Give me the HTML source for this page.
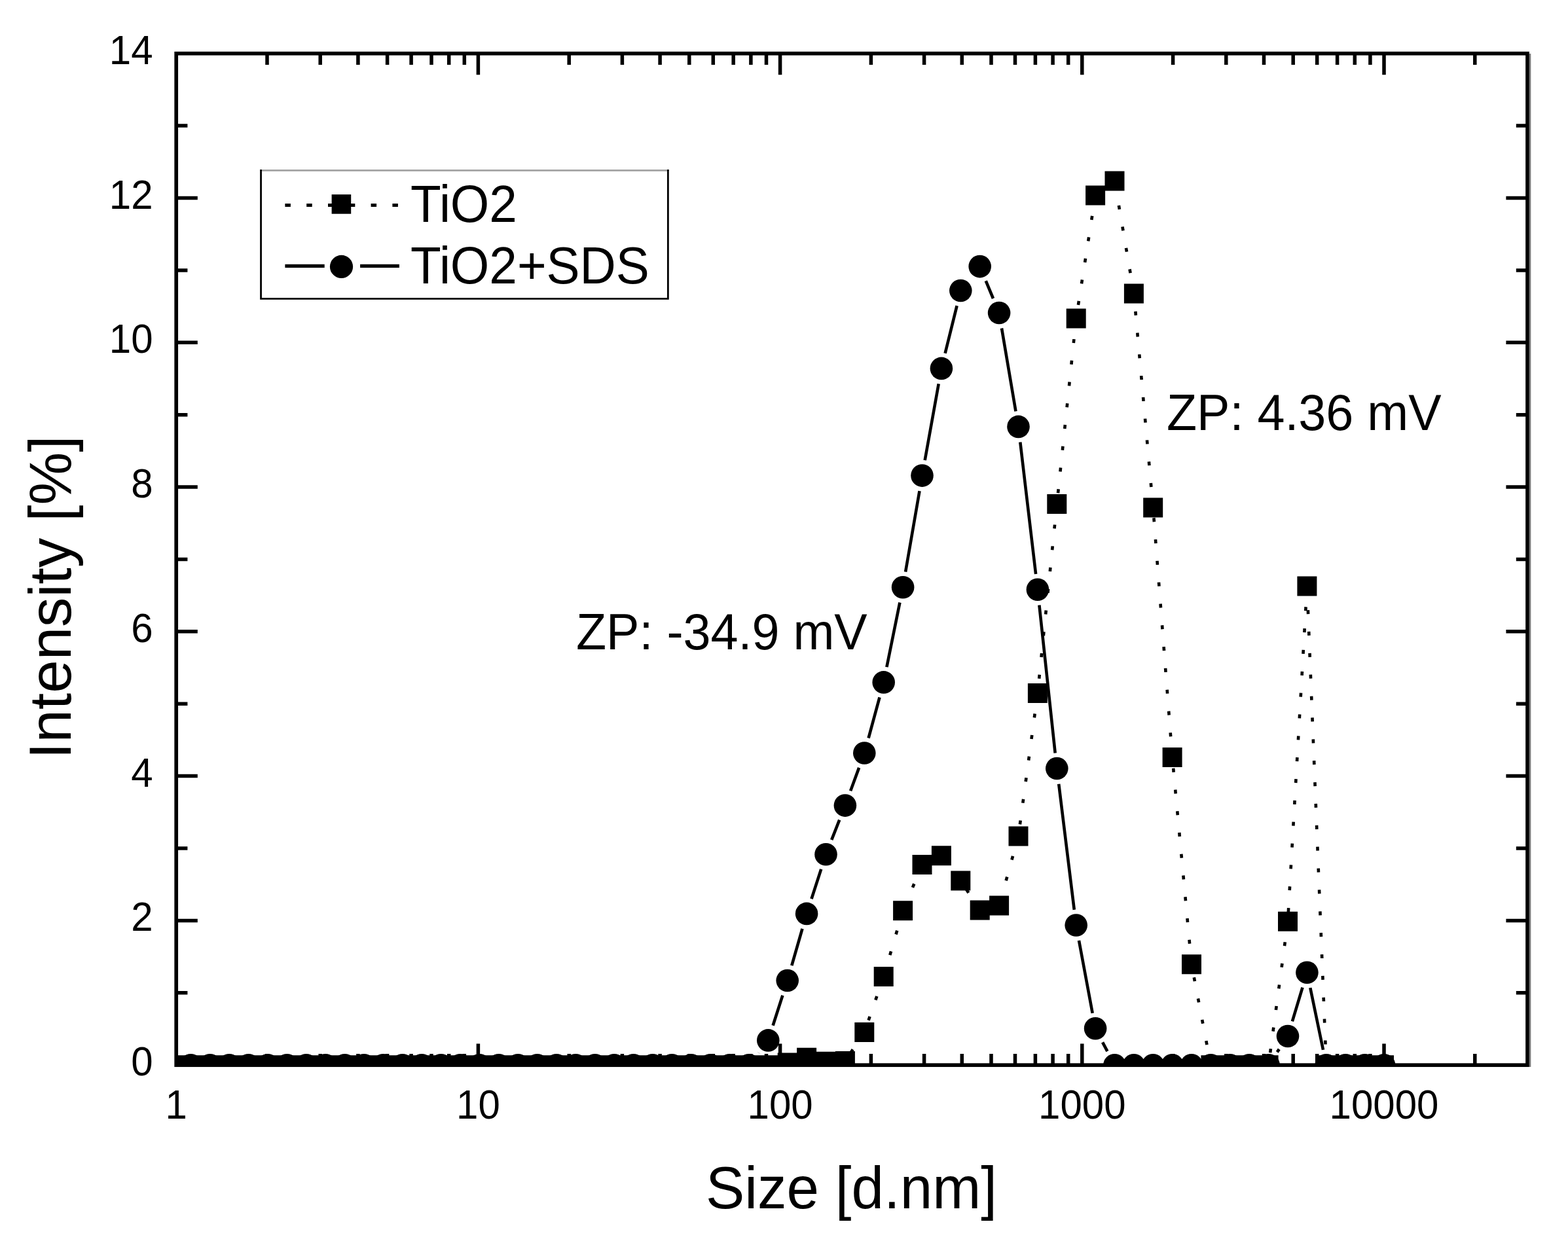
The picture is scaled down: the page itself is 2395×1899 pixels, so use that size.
<!DOCTYPE html>
<html><head><meta charset="utf-8"><title>DLS size distribution</title>
<style>html,body{margin:0;padding:0;background:#fff;overflow:hidden;width:2395px;height:1899px;}svg{display:block;}text{font-family:"Liberation Sans",Arial,sans-serif;fill:#000;}</style></head><body>
<svg width="2395" height="1899" viewBox="0 0 2395 1899">
<rect x="0" y="0" width="2395" height="1899" fill="#fff"/>
<defs><clipPath id="pc"><rect x="269.2" y="81.7" width="2063.8" height="1545.5"/></clipPath></defs>
<g clip-path="url(#pc)">
<path d="M1202.7 1623.6L1173.3 1627.2M1232.1 1615.8L1202.7 1623.6M1261.5 1621.7L1232.1 1615.8M1290.9 1621L1261.5 1621.7M1320.3 1577L1290.9 1621M1349.7 1492L1320.3 1577M1379.1 1391.3L1349.7 1492M1408.5 1321L1379.1 1391.3M1437.9 1307.2L1408.5 1321M1467.3 1345.5L1437.9 1307.2M1496.7 1390.6L1467.3 1345.5M1526.1 1383.6L1496.7 1390.6M1555.5 1277.4L1526.1 1383.6M1584.9 1059L1555.5 1277.4M1614.3 770.1L1584.9 1059M1643.7 486.6L1614.3 770.1M1673.1 298.6L1643.7 486.6M1702.5 276.4L1673.1 298.6M1731.9 448.4L1702.5 276.4M1761.2 775.5L1731.9 448.4M1790.6 1156.9L1761.2 775.5M1820 1473.3L1790.6 1156.9M1849.4 1627.2L1820 1473.3M1967 1407.8L1937.6 1627.2M1996.4 895.6L1967 1407.8M2025.8 1627.2L1996.4 895.6" fill="none" stroke="#000" stroke-width="4.6" stroke-dasharray="6 26.9" stroke-dashoffset="1.2"/>
<path d="M1158.6 1608.4L1158.7 1608.2M1180.6 1566.8L1195.4 1520.7M1209.3 1475.2L1225.5 1418.8M1239.5 1373.3L1254.2 1327.9M1270.2 1283.1L1282.2 1252.7M1299.1 1208.2L1312.1 1172.9M1326.6 1127.6L1343.5 1065.4M1354.4 1019.1L1374.4 920.5M1383.1 873.7L1404.5 750.1M1412.7 703.2L1433.7 586.3M1443.6 539.8L1461.6 467.1M1505.8 429.1L1517 456M1530 501.5L1551.5 628.4M1558.3 675.5L1582.1 877.1M1587.4 924.4L1611.7 1150.4M1617.2 1197.7L1640.8 1389.9M1648 1436.9L1668.7 1547.8M1684.1 1592.3L1691.4 1606.1M1950.8 1607.4L1953.8 1602.9M1973.9 1560.3L1989.5 1508.6M2001.3 1509.1L2021 1603.9" fill="none" stroke="#000" stroke-width="4.6"/>
<path d="M247 1612.2h30v30h-30zM276.4 1612.2h30v30h-30zM305.8 1612.2h30v30h-30zM335.2 1612.2h30v30h-30zM364.6 1612.2h30v30h-30zM394 1612.2h30v30h-30zM423.4 1612.2h30v30h-30zM452.8 1612.2h30v30h-30zM482.2 1612.2h30v30h-30zM511.6 1612.2h30v30h-30zM541 1612.2h30v30h-30zM570.4 1612.2h30v30h-30zM599.8 1612.2h30v30h-30zM629.2 1612.2h30v30h-30zM658.6 1612.2h30v30h-30zM688 1612.2h30v30h-30zM717.4 1612.2h30v30h-30zM746.8 1612.2h30v30h-30zM776.2 1612.2h30v30h-30zM805.6 1612.2h30v30h-30zM835 1612.2h30v30h-30zM864.4 1612.2h30v30h-30zM893.8 1612.2h30v30h-30zM923.2 1612.2h30v30h-30zM952.6 1612.2h30v30h-30zM981.9 1612.2h30v30h-30zM1011.3 1612.2h30v30h-30zM1040.7 1612.2h30v30h-30zM1070.1 1612.2h30v30h-30zM1099.5 1612.2h30v30h-30zM1128.9 1612.2h30v30h-30zM1158.3 1612.2h30v30h-30zM1187.7 1608.6h30v30h-30zM1217.1 1600.8h30v30h-30zM1246.5 1606.7h30v30h-30zM1275.9 1606h30v30h-30zM1305.3 1562h30v30h-30zM1334.7 1477h30v30h-30zM1364.1 1376.3h30v30h-30zM1393.5 1306h30v30h-30zM1422.9 1292.2h30v30h-30zM1452.3 1330.5h30v30h-30zM1481.7 1375.6h30v30h-30zM1511.1 1368.6h30v30h-30zM1540.5 1262.4h30v30h-30zM1569.9 1044h30v30h-30zM1599.3 755.1h30v30h-30zM1628.7 471.6h30v30h-30zM1658.1 283.6h30v30h-30zM1687.5 261.4h30v30h-30zM1716.9 433.4h30v30h-30zM1746.2 760.5h30v30h-30zM1775.6 1141.9h30v30h-30zM1805 1458.3h30v30h-30zM1834.4 1612.2h30v30h-30zM1863.8 1612.2h30v30h-30zM1893.2 1612.2h30v30h-30zM1922.6 1612.2h30v30h-30zM1952 1392.8h30v30h-30zM1981.4 880.6h30v30h-30zM2010.8 1612.2h30v30h-30zM2040.2 1612.2h30v30h-30zM2069.6 1612.2h30v30h-30zM2099 1612.2h30v30h-30z" fill="#000"/>
<circle cx="262" cy="1627.2" r="17.3"/>
<circle cx="291.4" cy="1627.2" r="17.3"/>
<circle cx="320.8" cy="1627.2" r="17.3"/>
<circle cx="350.2" cy="1627.2" r="17.3"/>
<circle cx="379.6" cy="1627.2" r="17.3"/>
<circle cx="409" cy="1627.2" r="17.3"/>
<circle cx="438.4" cy="1627.2" r="17.3"/>
<circle cx="467.8" cy="1627.2" r="17.3"/>
<circle cx="497.2" cy="1627.2" r="17.3"/>
<circle cx="526.6" cy="1627.2" r="17.3"/>
<circle cx="556" cy="1627.2" r="17.3"/>
<circle cx="585.4" cy="1627.2" r="17.3"/>
<circle cx="614.8" cy="1627.2" r="17.3"/>
<circle cx="644.2" cy="1627.2" r="17.3"/>
<circle cx="673.6" cy="1627.2" r="17.3"/>
<circle cx="703" cy="1627.2" r="17.3"/>
<circle cx="732.4" cy="1627.2" r="17.3"/>
<circle cx="761.8" cy="1627.2" r="17.3"/>
<circle cx="791.2" cy="1627.2" r="17.3"/>
<circle cx="820.6" cy="1627.2" r="17.3"/>
<circle cx="850" cy="1627.2" r="17.3"/>
<circle cx="879.4" cy="1627.2" r="17.3"/>
<circle cx="908.8" cy="1627.2" r="17.3"/>
<circle cx="938.2" cy="1627.2" r="17.3"/>
<circle cx="967.6" cy="1627.2" r="17.3"/>
<circle cx="996.9" cy="1627.2" r="17.3"/>
<circle cx="1026.3" cy="1627.2" r="17.3"/>
<circle cx="1055.7" cy="1627.2" r="17.3"/>
<circle cx="1085.1" cy="1627.2" r="17.3"/>
<circle cx="1114.5" cy="1627.2" r="17.3"/>
<circle cx="1143.9" cy="1627.2" r="17.3"/>
<circle cx="1173.3" cy="1589.4" r="17.3"/>
<circle cx="1202.7" cy="1498" r="17.3"/>
<circle cx="1232.1" cy="1395.9" r="17.3"/>
<circle cx="1261.5" cy="1305.3" r="17.3"/>
<circle cx="1290.9" cy="1230.6" r="17.3"/>
<circle cx="1320.3" cy="1150.5" r="17.3"/>
<circle cx="1349.7" cy="1042.4" r="17.3"/>
<circle cx="1379.1" cy="897.2" r="17.3"/>
<circle cx="1408.5" cy="726.6" r="17.3"/>
<circle cx="1437.9" cy="562.9" r="17.3"/>
<circle cx="1467.3" cy="444" r="17.3"/>
<circle cx="1496.7" cy="407.1" r="17.3"/>
<circle cx="1526.1" cy="478" r="17.3"/>
<circle cx="1555.5" cy="651.9" r="17.3"/>
<circle cx="1584.9" cy="900.7" r="17.3"/>
<circle cx="1614.3" cy="1174" r="17.3"/>
<circle cx="1643.7" cy="1413.5" r="17.3"/>
<circle cx="1673.1" cy="1571.2" r="17.3"/>
<circle cx="1702.5" cy="1627.2" r="17.3"/>
<circle cx="1731.9" cy="1627.2" r="17.3"/>
<circle cx="1761.2" cy="1627.2" r="17.3"/>
<circle cx="1790.6" cy="1627.2" r="17.3"/>
<circle cx="1820" cy="1627.2" r="17.3"/>
<circle cx="1849.4" cy="1627.2" r="17.3"/>
<circle cx="1878.8" cy="1627.2" r="17.3"/>
<circle cx="1908.2" cy="1627.2" r="17.3"/>
<circle cx="1937.6" cy="1627.2" r="17.3"/>
<circle cx="1967" cy="1583" r="17.3"/>
<circle cx="1996.4" cy="1485.8" r="17.3"/>
<circle cx="2025.8" cy="1627.2" r="17.3"/>
<circle cx="2055.2" cy="1627.2" r="17.3"/>
<circle cx="2084.6" cy="1627.2" r="17.3"/>
<circle cx="2114" cy="1627.2" r="17.3"/>
</g>
<rect x="269.2" y="81.7" width="2063.8" height="1545.5" fill="none" stroke="#000" stroke-width="5.7"/>
<path d="M2337.1 82V1630" stroke="#777" stroke-width="2.4"/>
<path d="M269.2 1516.8h17.2M2333 1516.8h-17.2M269.2 1406.4h32.6M2333 1406.4h-32.6M269.2 1296h17.2M2333 1296h-17.2M269.2 1185.6h32.6M2333 1185.6h-32.6M269.2 1075.2h17.2M2333 1075.2h-17.2M269.2 964.8h32.6M2333 964.8h-32.6M269.2 854.5h17.2M2333 854.5h-17.2M269.2 744.1h32.6M2333 744.1h-32.6M269.2 633.7h17.2M2333 633.7h-17.2M269.2 523.3h32.6M2333 523.3h-32.6M269.2 412.9h17.2M2333 412.9h-17.2M269.2 302.5h32.6M2333 302.5h-32.6M269.2 192.1h17.2M2333 192.1h-17.2M408 1627.2v-17.2M408 81.7v17.2M489.2 1627.2v-17.2M489.2 81.7v17.2M546.9 1627.2v-17.2M546.9 81.7v17.2M591.6 1627.2v-17.2M591.6 81.7v17.2M628.1 1627.2v-17.2M628.1 81.7v17.2M659 1627.2v-17.2M659 81.7v17.2M685.7 1627.2v-17.2M685.7 81.7v17.2M709.3 1627.2v-17.2M709.3 81.7v17.2M730.4 1627.2v-32.6M730.4 81.7v32.6M869.2 1627.2v-17.2M869.2 81.7v17.2M950.4 1627.2v-17.2M950.4 81.7v17.2M1008.1 1627.2v-17.2M1008.1 81.7v17.2M1052.8 1627.2v-17.2M1052.8 81.7v17.2M1089.3 1627.2v-17.2M1089.3 81.7v17.2M1120.2 1627.2v-17.2M1120.2 81.7v17.2M1146.9 1627.2v-17.2M1146.9 81.7v17.2M1170.5 1627.2v-17.2M1170.5 81.7v17.2M1191.6 1627.2v-32.6M1191.6 81.7v32.6M1330.4 1627.2v-17.2M1330.4 81.7v17.2M1411.6 1627.2v-17.2M1411.6 81.7v17.2M1469.3 1627.2v-17.2M1469.3 81.7v17.2M1514 1627.2v-17.2M1514 81.7v17.2M1550.5 1627.2v-17.2M1550.5 81.7v17.2M1581.4 1627.2v-17.2M1581.4 81.7v17.2M1608.1 1627.2v-17.2M1608.1 81.7v17.2M1631.7 1627.2v-17.2M1631.7 81.7v17.2M1652.8 1627.2v-32.6M1652.8 81.7v32.6M1791.6 1627.2v-17.2M1791.6 81.7v17.2M1872.8 1627.2v-17.2M1872.8 81.7v17.2M1930.5 1627.2v-17.2M1930.5 81.7v17.2M1975.2 1627.2v-17.2M1975.2 81.7v17.2M2011.7 1627.2v-17.2M2011.7 81.7v17.2M2042.6 1627.2v-17.2M2042.6 81.7v17.2M2069.3 1627.2v-17.2M2069.3 81.7v17.2M2092.9 1627.2v-17.2M2092.9 81.7v17.2M2114 1627.2v-32.6M2114 81.7v32.6M2252.8 1627.2v-17.2M2252.8 81.7v17.2M2252.8 1627.2v-17.2M2252.8 81.7v17.2" stroke="#000" stroke-width="5.5" fill="none"/>
<text transform="translate(233.5 1643.2) scale(1 1.058)" font-size="60" text-anchor="end">0</text>
<text transform="translate(233.5 1422.4) scale(1 1.058)" font-size="60" text-anchor="end">2</text>
<text transform="translate(233.5 1201.6) scale(1 1.058)" font-size="60" text-anchor="end">4</text>
<text transform="translate(233.5 980.8) scale(1 1.058)" font-size="60" text-anchor="end">6</text>
<text transform="translate(233.5 760.1) scale(1 1.058)" font-size="60" text-anchor="end">8</text>
<text transform="translate(233.5 539.3) scale(1 1.058)" font-size="60" text-anchor="end">10</text>
<text transform="translate(233.5 318.5) scale(1 1.058)" font-size="60" text-anchor="end">12</text>
<text transform="translate(233.5 97.7) scale(1 1.058)" font-size="60" text-anchor="end">14</text>
<text transform="translate(269.2 1709) scale(1 1.058)" font-size="60" text-anchor="middle">1</text>
<text transform="translate(730.4 1709) scale(1 1.058)" font-size="60" text-anchor="middle">10</text>
<text transform="translate(1191.6 1709) scale(1 1.058)" font-size="60" text-anchor="middle">100</text>
<text transform="translate(1652.8 1709) scale(1 1.058)" font-size="60" text-anchor="middle">1000</text>
<text transform="translate(2114 1709) scale(1 1.058)" font-size="60" text-anchor="middle">10000</text>
<text transform="translate(107.5 912.6) rotate(-90)" font-size="90.7" text-anchor="middle">Intensity [%]</text>
<text transform="translate(1300.5 1846.4) scale(1 1.019)" font-size="89" text-anchor="middle">Size [d.nm]</text>
<path d="M397.2 260.3H1021.7" stroke="#a3a3a3" stroke-width="2.8"/>
<path d="M398.55 258.9V456.4H1020.35V258.9" fill="none" stroke="#000" stroke-width="2.8" stroke-linejoin="miter"/>
<path d="M435.4 313.5H608" stroke="#000" stroke-width="5" stroke-dasharray="8.5 24.3"/>
<rect x="506.6" y="297.1" width="29.6" height="29.6"/>
<path d="M435.4 406.4H495.7M550.1 406.4H609.9" stroke="#000" stroke-width="5.2"/>
<circle cx="521.5" cy="407.4" r="17.6"/>
<text transform="translate(627 338.6) scale(1 1.03)" font-size="76.5">TiO2</text>
<text transform="translate(627 432.8) scale(1 1.03)" font-size="76.5">TiO2+SDS</text>
<text transform="translate(880 991.7) scale(1 1.03)" font-size="75.5">ZP: -34.9 mV</text>
<text transform="translate(1782 656.8) scale(1 1.03)" font-size="75.5">ZP: 4.36 mV</text>
</svg></body></html>
